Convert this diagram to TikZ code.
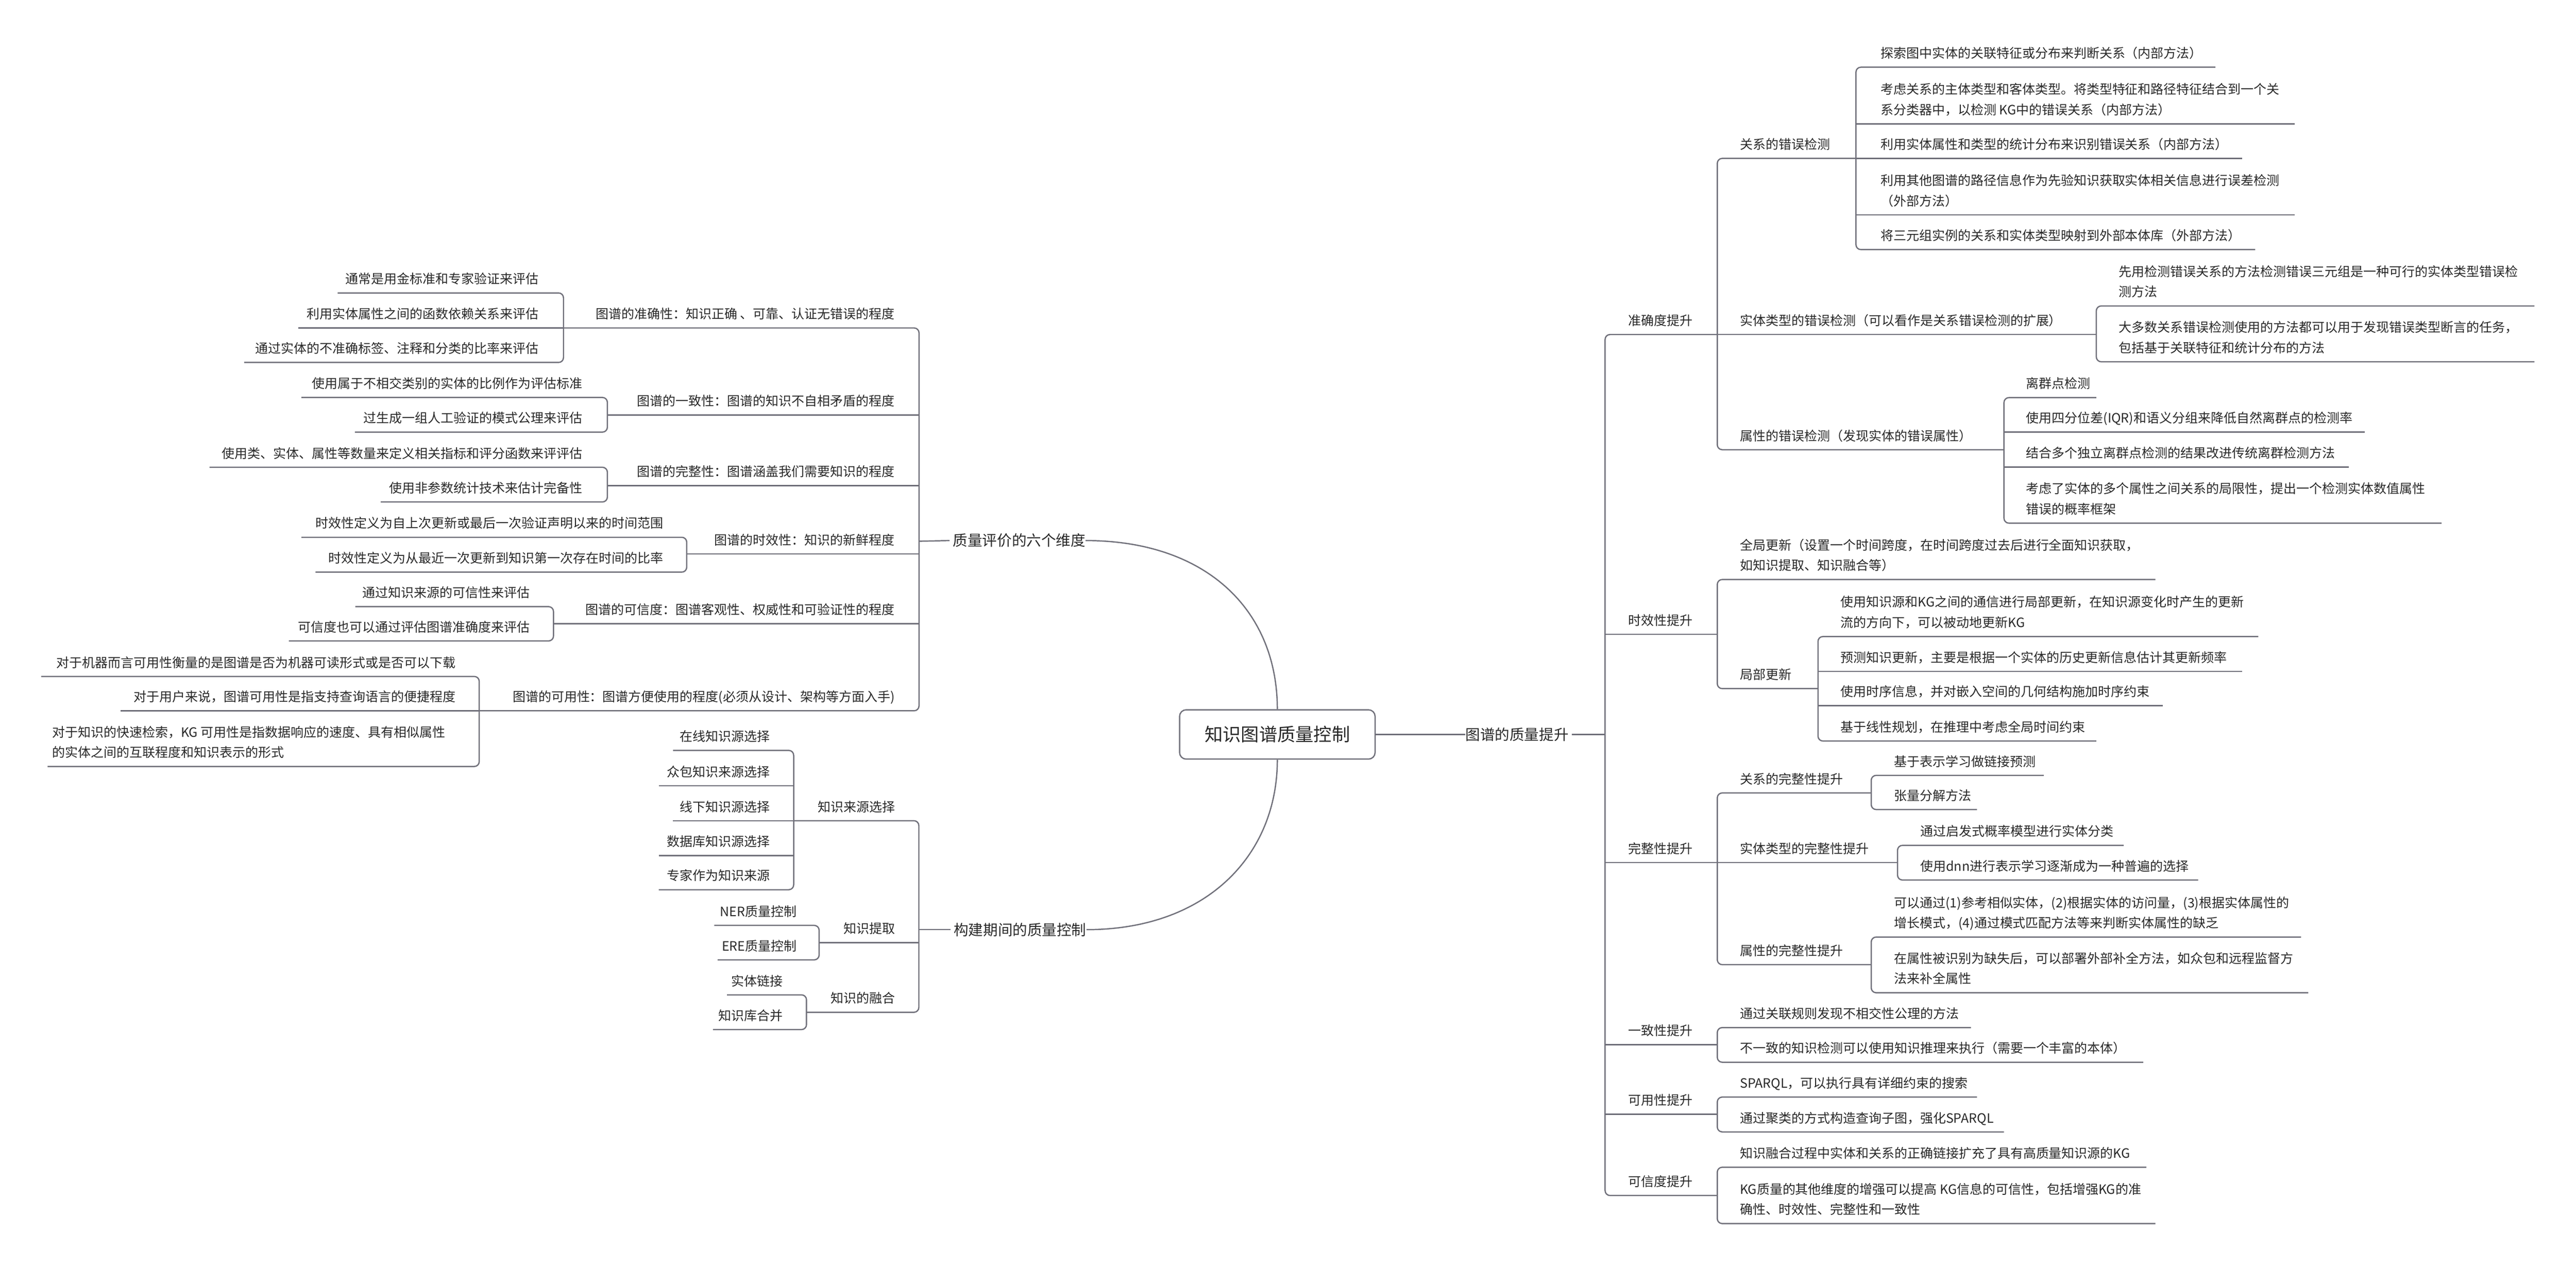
\documentclass[tikz,border=0pt]{standalone}
\usepackage{fontspec}
\setmainfont{Noto Sans CJK SC}
\definecolor{ln}{RGB}{112,112,122}
\definecolor{tx}{RGB}{40,40,40}
\tikzset{
  ln/.style={draw=ln,line width=2.2pt,rounded corners=3mm},
  rt/.style={inner sep=0pt,text depth=0pt,text=tx,font=\fontsize{22.3pt}{35.4pt}\selectfont,align=left},
  rtr/.style={rt,align=right},
  l1/.style={inner sep=0pt,text=tx,font=\fontsize{25.5pt}{30pt}\selectfont},
  rootst/.style={draw=ln,line width=2.2pt,rounded corners=4mm,fill=white,minimum width=119mm,minimum height=30mm,text=tx,font=\fontsize{31.5pt}{36pt}\selectfont}
}
\newcommand\RT[4]{\node[rt,anchor=south west] (#1) at (#2,#3-5.5) {#4};}
\newcommand\LT[4]{\node[rtr,anchor=south east] (#1) at (#2,#3-5.5) {#4};}
\newcommand\Spine[5]{\draw[ln] (#4,#2) -- (#1,#2) -- (#1,#3) -- (#5,#3);}
\newcommand\Hl[3]{\draw[ln] (#1,#3) -- (#2,#3);}
\begin{document}
\begin{tikzpicture}[x=1mm,y=-1mm]
\useasboundingbox (0,0) rectangle (1568,770.5);
% root and level 1
\node[rootst] (root) at (777.5,447) {知识图谱质量控制};
\node[l1,anchor=west] (up) at (892,447) {图谱的质量提升};
\node[l1,anchor=west] (eval) at (580,329) {质量评价的六个维度};
\node[l1,anchor=west] (build) at (580.5,565.8) {构建期间的质量控制};
\draw[ln] (root.east) -- (up.west);
\draw[ln,rounded corners=0pt] (root.north) .. controls (777.5,372) and (735,329) .. (eval.east);
\draw[ln,rounded corners=0pt] (root.south) .. controls (777.5,520) and (735,565.8) .. (build.east);
\draw[ln] (up.east) ++(2,0) -- (977,447);
\draw[ln] (eval.west) ++(-2,0) -- (559.4,329.4);
\draw[ln] (build.west) ++(-2,0) -- (559.3,565.8);

% ================= RIGHT =================
\Spine{977}{203.6}{727.6}{1045.3}{1045.3}
\Hl{977}{1045.3}{386.1}\Hl{977}{1045.3}{525}\Hl{977}{1045.3}{635.8}\Hl{977}{1045.3}{678.2}
\RT{a}{991}{203.6}{准确度提升}
\RT{b}{991}{386.1}{时效性提升}
\RT{c}{991}{525}{完整性提升}
\RT{d}{991}{635.8}{一致性提升}
\RT{e}{991}{678.2}{可用性提升}
\RT{f}{991}{727.6}{可信度提升}
% accuracy
\Spine{1045.3}{96.4}{273.7}{1129.7}{1219.8}
\Hl{1045.3}{1276}{203.6}
\RT{a1}{1059}{96.4}{关系的错误检测}
\RT{a2}{1059}{203.6}{实体类型的错误检测（可以看作是关系错误检测的扩展）}
\RT{a3}{1059}{273.7}{属性的错误检测（发现实体的错误属性）}
\Spine{1129.7}{40.9}{151.9}{1348.5}{1372.7}
\Hl{1129.7}{1396.9}{75.4}\Hl{1129.7}{1364.9}{96.4}\Hl{1129.7}{1396.9}{130.7}
\RT{a11}{1144.6}{40.9}{探索图中实体的关联特征或分布来判断关系（内部方法）}
\RT{a12}{1144.6}{75.4}{考虑关系的主体类型和客体类型。将类型特征和路径特征结合到一个关\\系分类器中，以检测 KG中的错误关系（内部方法）}
\RT{a13}{1144.6}{96.4}{利用实体属性和类型的统计分布来识别错误关系（内部方法）}
\RT{a14}{1144.6}{130.7}{利用其他图谱的路径信息作为先验知识获取实体相关信息进行误差检测\\（外部方法）}
\RT{a15}{1144.6}{151.9}{将三元组实例的关系和实体类型映射到外部本体库（外部方法）}
\Spine{1276}{186.2}{220.2}{1542.7}{1542.7}
\RT{a21}{1289.7}{186.2}{先用检测错误关系的方法检测错误三元组是一种可行的实体类型错误检\\测方法}
\RT{a22}{1289.7}{220.2}{大多数关系错误检测使用的方法都可以用于发现错误类型断言的任务，\\包括基于关联特征和统计分布的方法}
\Spine{1219.8}{242}{318.4}{1276}{1486.2}
\Hl{1219.8}{1439.3}{262.9}\Hl{1219.8}{1429.6}{284.3}
\RT{a31}{1233.2}{242}{离群点检测}
\RT{a32}{1233.2}{262.9}{使用四分位差(IQR)和语义分组来降低自然离群点的检测率}
\RT{a33}{1233.2}{284.3}{结合多个独立离群点检测的结果改进传统离群检测方法}
\RT{a34}{1233.2}{318.4}{考虑了实体的多个属性之间关系的局限性，提出一个检测实体数值属性\\错误的概率框架}
% timeliness
\Spine{1045.3}{352.7}{419.1}{1312}{1106.6}
\RT{b1}{1059}{352.7}{全局更新（设置一个时间跨度，在时间跨度过去后进行全面知识获取，\\如知识提取、知识融合等）}
\RT{b2}{1059}{419.1}{局部更新}
\Spine{1106.6}{387.4}{451}{1374.6}{1276}
\Hl{1106.6}{1364.9}{408.6}\Hl{1106.6}{1316.5}{429.5}
\RT{b21}{1120.4}{387.4}{使用知识源和KG之间的通信进行局部更新，在知识源变化时产生的更新\\流的方向下，可以被动地更新KG}
\RT{b22}{1120.4}{408.6}{预测知识更新，主要是根据一个实体的历史更新信息估计其更新频率}
\RT{b23}{1120.4}{429.5}{使用时序信息，并对嵌入空间的几何结构施加时序约束}
\RT{b24}{1120.4}{451}{基于线性规划，在推理中考虑全局时间约束}
% completeness
\Spine{1045.3}{482.6}{587.1}{1139}{1139}
\Hl{1045.3}{1155}{525}
\RT{c1}{1059}{482.6}{关系的完整性提升}
\RT{c2}{1059}{525}{实体类型的完整性提升}
\RT{c3}{1059}{587.1}{属性的完整性提升}
\Spine{1139}{471.9}{492.7}{1244}{1203.4}
\RT{c11}{1152.8}{471.9}{基于表示学习做链接预测}
\RT{c12}{1152.8}{492.7}{张量分解方法}
\Spine{1155}{514.5}{535.6}{1292.7}{1338}
\RT{c21}{1168.8}{514.5}{通过启发式概率模型进行实体分类}
\RT{c22}{1168.8}{535.6}{使用dnn进行表示学习逐渐成为一种普遍的选择}
\Spine{1139}{570.3}{604.2}{1400.6}{1405}
\RT{c31}{1152.8}{570.3}{可以通过(1)参考相似实体，(2)根据实体的访问量，(3)根据实体属性的\\增长模式，(4)通过模式匹配方法等来判断实体属性的缺乏}
\RT{c32}{1152.8}{604.2}{在属性被识别为缺失后，可以部署外部补全方法，如众包和远程监督方\\法来补全属性}
% consistency / usability / credibility
\Spine{1045.3}{625.4}{646.5}{1199.7}{1304.6}
\RT{d1}{1059}{625.4}{通过关联规则发现不相交性公理的方法}
\RT{d2}{1059}{646.5}{不一致的知识检测可以使用知识推理来执行（需要一个丰富的本体）}
\Spine{1045.3}{667.7}{688.9}{1203.4}{1219.8}
\RT{e1}{1059}{667.7}{SPARQL，可以执行具有详细约束的搜索}
\RT{e2}{1059}{688.9}{通过聚类的方式构造查询子图，强化SPARQL}
\Spine{1045.3}{710.4}{744.7}{1306.5}{1312}
\RT{f1}{1059}{710.4}{知识融合过程中实体和关系的正确链接扩充了具有高质量知识源的KG}
\RT{f2}{1059}{744.7}{KG质量的其他维度的增强可以提高 KG信息的可信性，包括增强KG的准\\确性、时效性、完整性和一致性}

% ================= LEFT: evaluation =================
\Spine{559.4}{199.6}{432.6}{343}{291.7}
\Hl{369.7}{559.4}{252.6}\Hl{369.7}{559.4}{295.5}\Hl{418}{559.4}{337.2}\Hl{336.9}{559.4}{379.6}
\LT{g1}{544.7}{199.6}{图谱的准确性：知识正确 、可靠、认证无错误的程度}
\LT{g2}{544.7}{252.6}{图谱的一致性：图谱的知识不自相矛盾的程度}
\LT{g3}{544.7}{295.5}{图谱的完整性：图谱涵盖我们需要知识的程度}
\LT{g4}{544.7}{337.2}{图谱的时效性：知识的新鲜程度}
\LT{g5}{544.7}{379.6}{图谱的可信度：图谱客观性、权威性和可验证性的程度}
\LT{g6}{544.7}{432.6}{图谱的可用性：图谱方便使用的程度(必须从设计、架构等方面入手)}
\Spine{343}{178.3}{220.6}{205.5}{148.7}
\Hl{181.6}{343}{199.6}
\LT{g11}{328}{178.3}{通常是用金标准和专家验证来评估}
\LT{g12}{328}{199.6}{利用实体属性之间的函数依赖关系来评估}
\LT{g13}{328}{220.6}{通过实体的不准确标签、注释和分类的比率来评估}
\Spine{369.7}{241.9}{263}{183.5}{216}
\LT{g21}{354.6}{241.9}{使用属于不相交类别的实体的比例作为评估标准}
\LT{g22}{354.6}{263}{过生成一组人工验证的模式公理来评估}
\Spine{369.7}{284.4}{305.5}{127.5}{231.8}
\LT{g31}{354.6}{284.4}{使用类、实体、属性等数量来定义相关指标和评分函数来评评估}
\LT{g32}{354.6}{305.5}{使用非参数统计技术来估计完备性}
\Spine{418}{327}{348.2}{183.5}{192}
\LT{g41}{403.7}{327}{时效性定义为自上次更新或最后一次验证声明以来的时间范围}
\LT{g42}{403.7}{348.2}{时效性定义为从最近一次更新到知识第一次存在时间的比率}
\Spine{336.9}{369.2}{390.1}{216.3}{175.8}
\LT{g51}{322.6}{369.2}{通过知识来源的可信性来评估}
\LT{g52}{322.6}{390.1}{可信度也可以通过评估图谱准确度来评估}
\Spine{291.7}{411.7}{466.5}{25.1}{29}
\Hl{73.4}{291.7}{432.6}
\LT{g61}{277.4}{411.7}{对于机器而言可用性衡量的是图谱是否为机器可读形式或是否可以下载}
\LT{g62}{277.4}{432.6}{对于用户来说，图谱可用性是指支持查询语言的便捷程度}
\node[rt,anchor=south west] (g63) at (31.7,461) {对于知识的快速检索，KG 可用性是指数据响应的速度、具有相似属性\\的实体之间的互联程度和知识表示的形式};

% ================= LEFT: build =================
\Spine{559.3}{499.5}{616.1}{483.1}{490.9}
\Hl{498.6}{559.3}{573.7}
\LT{h1}{545}{499.5}{知识来源选择}
\LT{h2}{545}{573.7}{知识提取}
\LT{h3}{545}{616.1}{知识的融合}
\Spine{483.1}{456.7}{541.5}{409.7}{401}
\Hl{401}{483.1}{478.2}\Hl{409.7}{483.1}{499.5}\Hl{401}{483.1}{520.8}
\LT{h11}{468.8}{456.7}{在线知识源选择}
\LT{h12}{468.8}{478.2}{众包知识来源选择}
\LT{h13}{468.8}{499.5}{线下知识源选择}
\LT{h14}{468.8}{520.8}{数据库知识源选择}
\LT{h15}{468.8}{541.5}{专家作为知识来源}
\Spine{498.6}{563.2}{584.2}{434.8}{436.8}
\LT{h21}{485}{563.2}{NER质量控制}
\LT{h22}{485}{584.2}{ERE质量控制}
\Spine{490.9}{605.5}{626.6}{442.5}{434}
\LT{h31}{476.6}{605.5}{实体链接}
\LT{h32}{476.6}{626.6}{知识库合并}
\end{tikzpicture}
\end{document}
